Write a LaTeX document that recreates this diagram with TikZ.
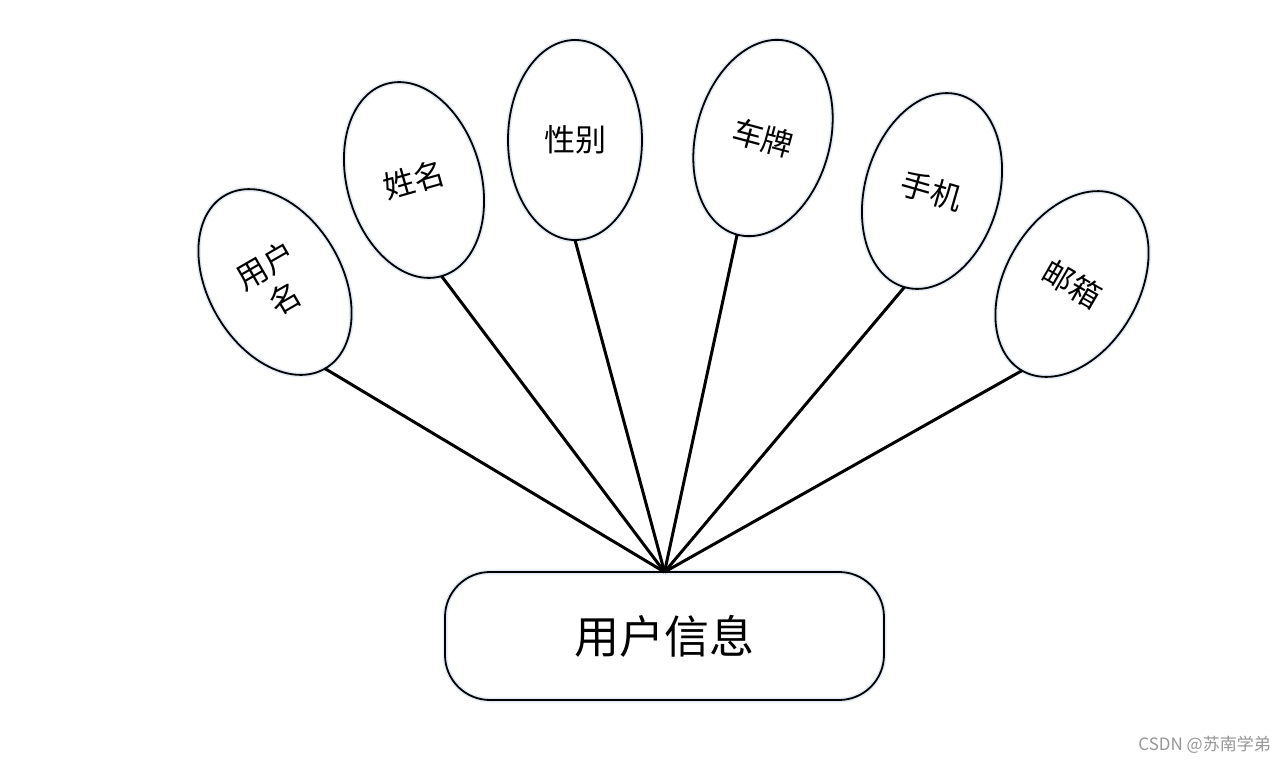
\documentclass[tikz,border=0pt]{standalone}
\usepackage{fontspec}
\newfontfamily\cjk{Noto Sans CJK SC}
\usetikzlibrary{shapes.geometric}
\definecolor{glowc}{RGB}{228,236,248}
\definecolor{markc}{RGB}{150,150,150}
\begin{document}
\begin{tikzpicture}[x=1pt,y=-1pt,
  glow/.style={preaction={draw=glowc, line width=5pt}},
  attr/.style={ellipse, draw, line width=1.8pt, minimum width=134pt, minimum height=200pt,
    inner sep=0pt, outer sep=0pt, align=center, glow,
    font=\cjk\fontsize{31}{38}\selectfont},
  entity/.style={draw, rounded corners=45pt, line width=1.8pt, minimum width=439pt,
    minimum height=128pt, outer sep=0pt, glow, font=\cjk\fontsize{45}{50}\selectfont},
  link/.style={line width=3pt}]
\useasboundingbox (0,0) rectangle (1285,763);
\node[attr, rotate=30]  (e1) at (275,282) {用户\\名};
\node[attr, rotate=16]  (e2) at (414,180) {姓名};
\node[attr, rotate=0]   (e3) at (575,140) {性别};
\node[attr, rotate=-15] (e4) at (763,138) {车牌};
\node[attr, rotate=-16] (e5) at (932,191) {手机};
\node[attr, rotate=-30] (e6) at (1072,284) {邮箱};
\node[entity] (info) at (664.5,636) {用户信息};
\foreach \e in {e1,e2,e3,e4,e5,e6}
  \draw[link] (info.north) -- (\e.south);
\node[anchor=east, text=markc, font=\cjk\fontsize{17}{20}\selectfont, inner sep=0pt] (mark) at (1271,745) {CSDN @苏南学弟};
\end{tikzpicture}
\end{document}
